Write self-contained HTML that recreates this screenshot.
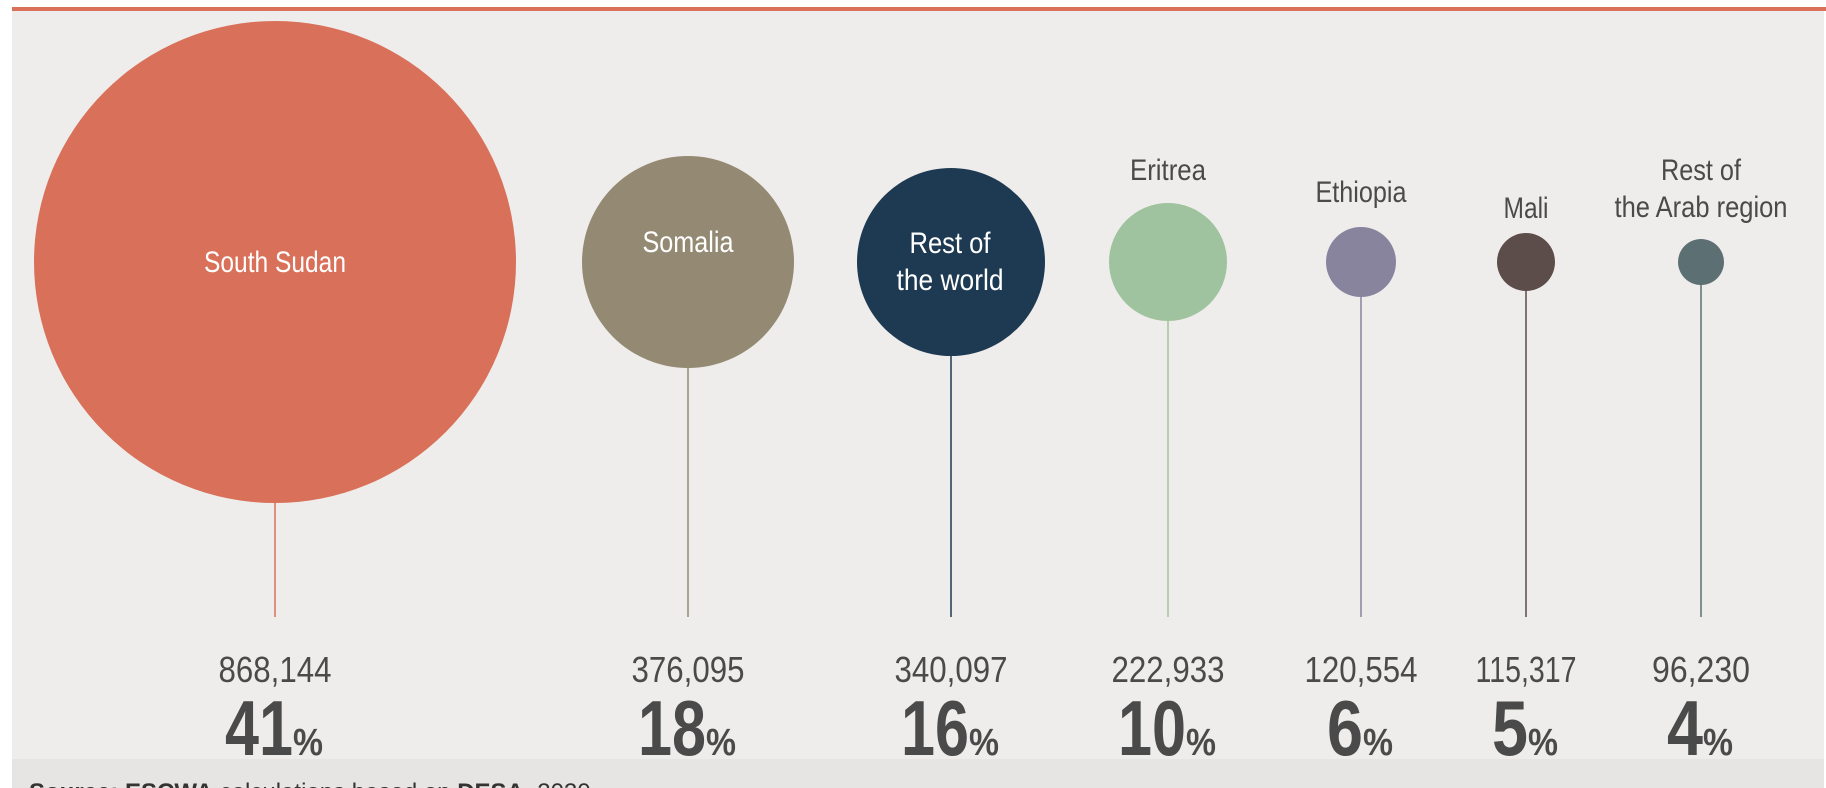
<!DOCTYPE html>
<html><head><meta charset="utf-8"><style>
html,body{margin:0;padding:0;background:#fff;}
svg{display:block;}
text{font-family:"Liberation Sans Narrow","Liberation Sans",sans-serif;}
</style></head><body>
<svg width="1826" height="788" viewBox="0 0 1826 788" xmlns="http://www.w3.org/2000/svg">
<rect x="12" y="10" width="1812" height="749" fill="#efedeb"/>
<rect x="12" y="759" width="1812" height="29" fill="#e6e5e3"/>
<rect x="12" y="7" width="1814" height="4" fill="#d97059"/>
<g stroke-width="1.5">
<line x1="275" y1="500" x2="275" y2="617" stroke="#d97059"/>
<line x1="688" y1="366" x2="688" y2="617" stroke="#948a74"/>
<line x1="951" y1="354" x2="951" y2="617" stroke="#1e3a52"/>
<line x1="1168" y1="318" x2="1168" y2="617" stroke="#9fc39e"/>
<line x1="1361" y1="295" x2="1361" y2="617" stroke="#88849e"/>
<line x1="1526" y1="290" x2="1526" y2="617" stroke="#5c4d4b"/>
<line x1="1701" y1="284" x2="1701" y2="617" stroke="#5c7073"/>
</g>
<circle cx="275" cy="262" r="241" fill="#d97059"/>
<circle cx="688" cy="262" r="106" fill="#948a74"/>
<circle cx="951" cy="262" r="94" fill="#1e3a52"/>
<circle cx="1168" cy="262" r="59" fill="#9fc39e"/>
<circle cx="1361" cy="262" r="35" fill="#88849e"/>
<circle cx="1526" cy="262" r="29" fill="#5c4d4b"/>
<circle cx="1701" cy="262" r="23" fill="#5c7073"/>
<g font-size="30" fill="#fff" text-anchor="middle">
<text x="275" y="272" textLength="142" lengthAdjust="spacingAndGlyphs">South Sudan</text>
<text x="688" y="252" textLength="91" lengthAdjust="spacingAndGlyphs">Somalia</text>
<text x="950" y="253" textLength="81" lengthAdjust="spacingAndGlyphs">Rest of</text>
<text x="950" y="290" textLength="107" lengthAdjust="spacingAndGlyphs">the world</text>
</g>
<g font-size="30" fill="#4a4a4a" text-anchor="middle">
<text x="1168" y="180" textLength="76" lengthAdjust="spacingAndGlyphs">Eritrea</text>
<text x="1361" y="202" textLength="91" lengthAdjust="spacingAndGlyphs">Ethiopia</text>
<text x="1526" y="218" textLength="45" lengthAdjust="spacingAndGlyphs">Mali</text>
<text x="1701" y="180" textLength="80" lengthAdjust="spacingAndGlyphs">Rest of</text>
<text x="1701" y="217" textLength="173" lengthAdjust="spacingAndGlyphs">the Arab region</text>
</g>
<g font-size="36" fill="#4a4a4a" text-anchor="middle">
<text x="275" y="682" textLength="113" lengthAdjust="spacingAndGlyphs">868,144</text>
<text x="688" y="682" textLength="113" lengthAdjust="spacingAndGlyphs">376,095</text>
<text x="951" y="682" textLength="113" lengthAdjust="spacingAndGlyphs">340,097</text>
<text x="1168" y="682" textLength="113" lengthAdjust="spacingAndGlyphs">222,933</text>
<text x="1361" y="682" textLength="113" lengthAdjust="spacingAndGlyphs">120,554</text>
<text x="1526" y="682" textLength="101" lengthAdjust="spacingAndGlyphs">115,317</text>
<text x="1701" y="682" textLength="98" lengthAdjust="spacingAndGlyphs">96,230</text>
</g>
<g fill="#4a4a4a" font-weight="bold">
<text x="225" y="755" font-size="78" textLength="68" lengthAdjust="spacingAndGlyphs">41</text><text x="293" y="755" font-size="38" textLength="30" lengthAdjust="spacingAndGlyphs">%</text>
<text x="638" y="755" font-size="78" textLength="68" lengthAdjust="spacingAndGlyphs">18</text><text x="706" y="755" font-size="38" textLength="30" lengthAdjust="spacingAndGlyphs">%</text>
<text x="901" y="755" font-size="78" textLength="68" lengthAdjust="spacingAndGlyphs">16</text><text x="969" y="755" font-size="38" textLength="30" lengthAdjust="spacingAndGlyphs">%</text>
<text x="1118" y="755" font-size="78" textLength="68" lengthAdjust="spacingAndGlyphs">10</text><text x="1186" y="755" font-size="38" textLength="30" lengthAdjust="spacingAndGlyphs">%</text>
<text x="1327" y="755" font-size="78" textLength="36" lengthAdjust="spacingAndGlyphs">6</text><text x="1363" y="755" font-size="38" textLength="30" lengthAdjust="spacingAndGlyphs">%</text>
<text x="1492" y="755" font-size="78" textLength="36" lengthAdjust="spacingAndGlyphs">5</text><text x="1528" y="755" font-size="38" textLength="30" lengthAdjust="spacingAndGlyphs">%</text>
<text x="1667" y="755" font-size="78" textLength="36" lengthAdjust="spacingAndGlyphs">4</text><text x="1703" y="755" font-size="38" textLength="30" lengthAdjust="spacingAndGlyphs">%</text>
</g>
<text x="29" y="800" font-size="24" fill="#333" font-family="Liberation Sans, sans-serif"><tspan font-weight="bold">Source: ESCWA</tspan> calculations based on <tspan font-weight="bold">DESA</tspan>, 2020.</text>
</svg>
</body></html>
